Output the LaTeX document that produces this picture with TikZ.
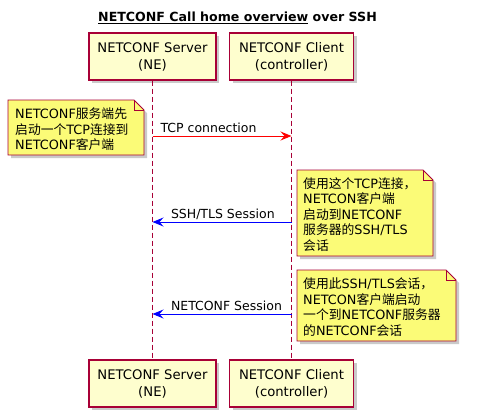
\documentclass[tikz,border=0pt]{standalone}
\usepackage{fontspec}
\setmainfont{DejaVu Sans}
\newfontfamily\cjk{Noto Sans CJK SC}
\usetikzlibrary{arrows.meta,shadows}
\definecolor{pborder}{HTML}{A80036}
\definecolor{pfill}{HTML}{FEFECE}
\definecolor{nfill}{HTML}{FBFB77}
\newcommand\drawnote[4]{%
  \fill[black!35,opacity=0.6] (#1+3,#2+3) -- (#3-10+3,#2+3) -- (#3+3,#2+10+3) -- (#3+3,#4+3) -- (#1+3,#4+3) -- cycle;
  \filldraw[notebody] (#1,#2) -- (#3-10,#2) -- (#3,#2+10) -- (#3,#4) -- (#1,#4) -- cycle;
  \draw[notebody,fill=none] (#3-10,#2) -- (#3-10,#2+10) -- (#3,#2+10);
}
\begin{document}
\begin{tikzpicture}[x=1pt,y=-1pt,
  partbox/.style={draw=pborder, line width=1.2pt, fill=pfill, minimum width=#1, minimum height=47pt,
    align=center, inner sep=0pt, font=\fontsize{13.2}{17}\selectfont,
    drop shadow={shadow xshift=3pt, shadow yshift=-3pt, fill=black!35, opacity=0.6}},
  notebody/.style={draw=pborder, line width=0.9pt, fill=nfill},
  notetext/.style={align=left, inner sep=0pt, anchor=west, font=\fontsize{12.8}{15.5}\selectfont},
  life/.style={draw=pborder, line width=0.9pt, dash pattern=on 5pt off 3pt},
  msg/.style={line width=1pt, -{Stealth[length=11pt,width=9pt,inset=4pt]}},
  msglabel/.style={inner sep=0pt, anchor=base west, font=\fontsize{12.5}{15}\selectfont},
]
\useasboundingbox (0,0) rectangle (478,418);

\node[font=\bfseries\fontsize{12.6}{15}\selectfont] (title) at (237.5,18) {\underline{NETCONF Call home overview} over SSH};

\node[partbox=127pt] (stop) at (152.5,56.5) {NETCONF Server\\(NE)};
\node[partbox=124pt] (ctop) at (291.5,56.5) {NETCONF Client\\(controller)};
\node[partbox=127pt] (sbot) at (152.5,383.5) {NETCONF Server\\(NE)};
\node[partbox=124pt] (cbot) at (291.5,383.5) {NETCONF Client\\(controller)};

\draw[life] (stop.south) -- (sbot.north);
\draw[life] (ctop.south) -- (cbot.north);

\coordinate (s1) at (152.5,136);
\coordinate (c1) at (291.5,136);
\coordinate (s2) at (152.5,222);
\coordinate (c2) at (291.5,222);
\coordinate (s3) at (152.5,314);
\coordinate (c3) at (291.5,314);

\draw[msg,red] (s1) -- (c1) node[msglabel,text=black,pos=0,xshift=7.5pt,yshift=4pt] (l1) {TCP connection};
\draw[msg,blue] (c2) -- (s2) node[msglabel,text=black,pos=1,xshift=18pt,yshift=4pt] (l2) {SSH/TLS Session};
\draw[msg,blue] (c3) -- (s3) node[msglabel,text=black,pos=1,xshift=18pt,yshift=4pt] (l3) {NETCONF Session};

\drawnote{8}{100}{144}{155}
\node[notetext] (n1) at (15,129.5) {NETCONF{\cjk 服务端先}\\{\cjk 启动一个}TCP{\cjk 连接到}\\NETCONF{\cjk 客户端}};

\drawnote{297}{170}{433}{256}
\node[notetext] (n2) at (303,214.5) {{\cjk 使用这个}TCP{\cjk 连接，}\\NETCON{\cjk 客户端}\\{\cjk 启动到}NETCONF\\{\cjk 服务器的}SSH/TLS\\{\cjk 会话}};

\drawnote{297}{270}{456}{341}
\node[notetext] (n3) at (303,307) {{\cjk 使用此}SSH/TLS{\cjk 会话，}\\NETCON{\cjk 客户端启动}\\{\cjk 一个到}NETCONF{\cjk 服务器}\\{\cjk 的}NETCONF{\cjk 会话}};
\end{tikzpicture}
\end{document}
